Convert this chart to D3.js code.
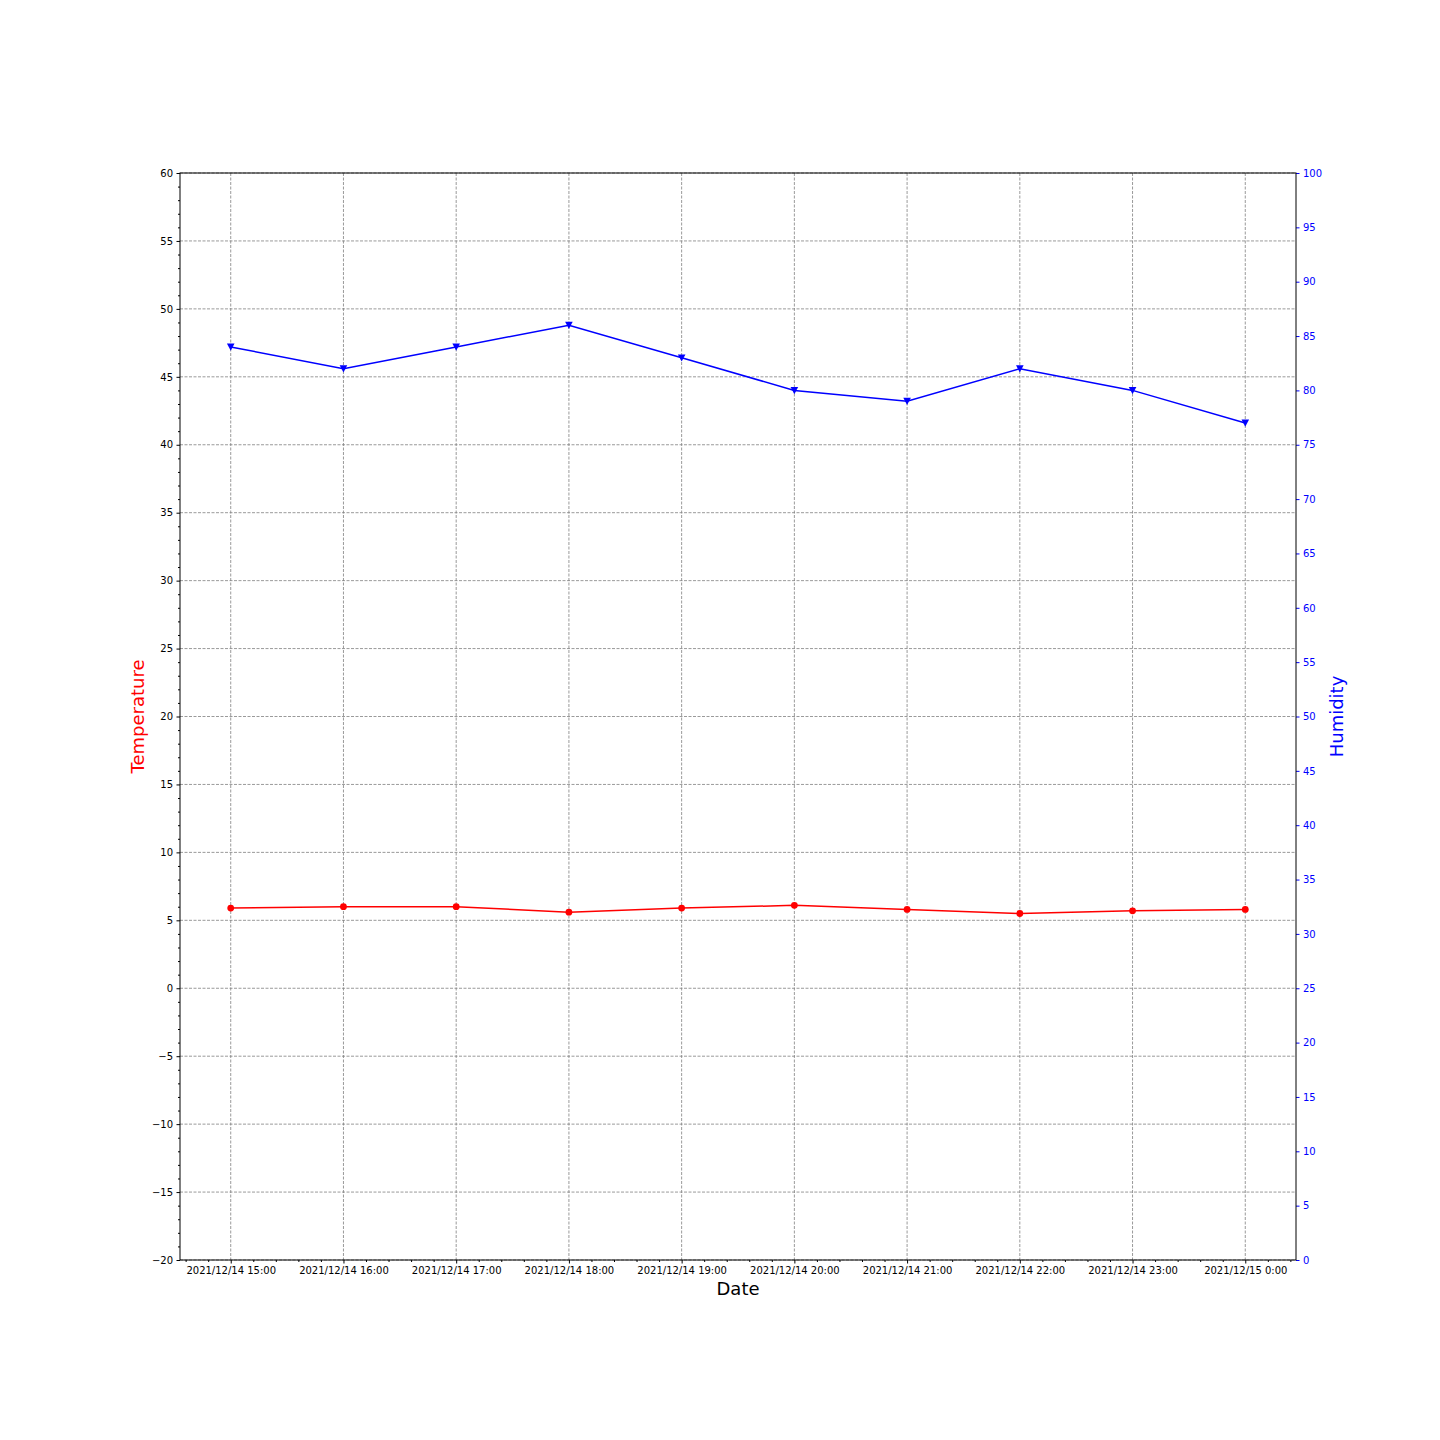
<!DOCTYPE html>
<html>
<head>
<meta charset="utf-8">
<script src="https://cdn.jsdelivr.net/npm/d3@7"></script>
<style>
  body { margin: 0; background: #fff; }
  svg text { font-family: "DejaVu Sans", sans-serif; }
</style>
</head>
<body>
<div id="chart"></div>
<script>
// Data
var dates = ["2021/12/14 15:00", "2021/12/14 16:00", "2021/12/14 17:00", "2021/12/14 18:00",
             "2021/12/14 19:00", "2021/12/14 20:00", "2021/12/14 21:00", "2021/12/14 22:00",
             "2021/12/14 23:00", "2021/12/15 0:00"];
var temperature = [5.9, 6.0, 6.0, 5.6, 5.9, 6.1, 5.8, 5.5, 5.7, 5.8];
var humidity = [84, 82, 84, 86, 83, 80, 79, 82, 80, 77];
var tempTicks = d3.range(-20, 61, 5);
var humTicks = d3.range(0, 101, 5);

var margin = { top: 173, right: 144, bottom: 180, left: 180 },
    width = 1440 - margin.left - margin.right,
    height = 1440 - margin.top - margin.bottom;

var svg = d3.select("#chart")
    .append("svg")
    .attr("width", 1440)
    .attr("height", 1440)
    .append("g")
    .attr("transform", "translate(" + margin.left + "," + margin.top + ")");

// x is the index of the date, with matplotlib's 5% margin
var x = d3.scaleLinear().domain([-0.45, dates.length - 1 + 0.45]).range([0, width]);
var yT = d3.scaleLinear().domain([-20, 60]).range([height, 0]);
var yH = d3.scaleLinear().domain([0, 100]).range([height, 0]);

// grid
svg.append("g").selectAll("line.hgrid")
    .data(tempTicks)
    .enter().append("line")
    .attr("x1", 0).attr("x2", width)
    .attr("y1", function(d) { return yT(d); })
    .attr("y2", function(d) { return yT(d); })
    .attr("stroke", "#808080").attr("stroke-width", 0.8)
    .attr("stroke-dasharray", "3,1.5");

svg.append("g").selectAll("line.vgrid")
    .data(d3.range(dates.length))
    .enter().append("line")
    .attr("y1", 0).attr("y2", height)
    .attr("x1", function(d) { return x(d); })
    .attr("x2", function(d) { return x(d); })
    .attr("stroke", "#808080").attr("stroke-width", 0.8)
    .attr("stroke-dasharray", "3,1.5");

// x axis
var xAxis = svg.append("g")
    .attr("transform", "translate(0," + height + ")")
    .call(d3.axisBottom(x)
        .tickValues(d3.range(dates.length))
        .tickFormat(function(i) { return dates[i]; })
        .tickSize(3.5).tickPadding(3.5));
xAxis.select(".domain").remove();
xAxis.selectAll("text").attr("font-size", 10).attr("fill", "#000");

svg.append("g")
    .attr("transform", "translate(0," + height + ")")
    .call(d3.axisBottom(x)
        .tickValues(d3.range(-0.4, 9.41, 0.2).filter(function(v) { return Math.abs(v - Math.round(v)) > 0.01; }))
        .tickFormat("")
        .tickSize(2))
    .select(".domain").remove();

// left axis
var leftAxis = svg.append("g")
    .call(d3.axisLeft(yT)
        .tickValues(tempTicks)
        .tickFormat(function(d) { return d < 0 ? "\u2212" + Math.abs(d) : d; })
        .tickSize(3.5).tickPadding(3.5));
leftAxis.select(".domain").remove();
leftAxis.selectAll("text").attr("font-size", 10).attr("fill", "#000");

svg.append("g")
    .call(d3.axisLeft(yT)
        .tickValues(d3.range(-19, 60, 1).filter(function(v) { return v % 5 !== 0; }))
        .tickFormat("")
        .tickSize(2))
    .select(".domain").remove();

// right axis
var rightAxis = svg.append("g")
    .attr("transform", "translate(" + width + ",0)")
    .call(d3.axisRight(yH)
        .tickValues(humTicks)
        .tickSize(3.5).tickPadding(3.5));
rightAxis.select(".domain").remove();
rightAxis.selectAll("line").attr("stroke", "blue");
rightAxis.selectAll("text").attr("font-size", 10).attr("fill", "blue");

// frame
svg.append("rect")
    .attr("width", width).attr("height", height)
    .attr("fill", "none").attr("stroke", "#000").attr("stroke-width", 1);

// temperature line
var tempLine = d3.line()
    .x(function(d, i) { return x(i); })
    .y(function(d) { return yT(d); });

svg.append("path")
    .datum(temperature)
    .attr("d", tempLine)
    .attr("fill", "none")
    .attr("stroke", "red")
    .attr("stroke-width", 1.5);

svg.selectAll(".tdot")
    .data(temperature)
    .enter().append("circle")
    .attr("class", "tdot")
    .attr("cx", function(d, i) { return x(i); })
    .attr("cy", function(d) { return yT(d); })
    .attr("r", 3.4)
    .attr("fill", "red");

// humidity line
var humLine = d3.line()
    .x(function(d, i) { return x(i); })
    .y(function(d) { return yH(d); });

svg.append("path")
    .datum(humidity)
    .attr("d", humLine)
    .attr("fill", "none")
    .attr("stroke", "blue")
    .attr("stroke-width", 1.5);

svg.selectAll(".hdot")
    .data(humidity)
    .enter().append("path")
    .attr("class", "hdot")
    .attr("transform", function(d, i) { return "translate(" + x(i) + "," + yH(d) + ")"; })
    .attr("d", "M-3.8,-3.4 L3.8,-3.4 L0,3.8 Z")
    .attr("fill", "blue");

// axis labels
svg.append("text")
    .attr("x", width / 2)
    .attr("y", height + 35)
    .attr("text-anchor", "middle")
    .attr("font-size", 18)
    .attr("fill", "#000")
    .text("Date");

svg.append("text")
    .attr("transform", "translate(-36," + height / 2 + ") rotate(-90)")
    .attr("text-anchor", "middle")
    .attr("font-size", 18)
    .attr("fill", "red")
    .text("Temperature");

svg.append("text")
    .attr("transform", "translate(" + (width + 47) + "," + height / 2 + ") rotate(-90)")
    .attr("text-anchor", "middle")
    .attr("font-size", 18)
    .attr("fill", "blue")
    .text("Humidity");
</script>
</body>
</html>
